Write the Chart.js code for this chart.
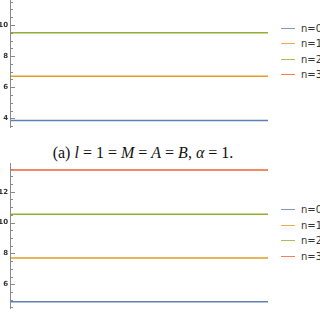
<!DOCTYPE html>
<html lang="en">
    <head>
        <meta charset="UTF-8">
        <title>Energy levels</title>
        <script src="https://cdn.jsdelivr.net/npm/chart.js@4.4.0/dist/chart.umd.min.js"></script>
        <style>
            body { margin: 0; background: #fff; }
            #wrap { position: relative; width: 320px; height: 320px; overflow: hidden; }
            .plot { position: absolute; left: 0; }
            .legend { position: absolute; left: 281px; font-family: "DejaVu Sans", sans-serif; font-size: 10px; color: #333; }
            .legend div { height: 15.5px; display: flex; align-items: center; white-space: nowrap; }
            .legend span.line { display: inline-block; width: 14px; height: 0; border-top: 1.5px solid; margin-right: 6px; opacity: 0.8; }
            .caption { position: absolute; left: 0; width: 286px; top: 144px; text-align: center;
                       font-family: "Liberation Serif", "DejaVu Serif", serif; font-size: 16px; line-height: 18px;
                       color: #111; white-space: nowrap; }
        </style>
    </head>
    <body>
        <script>
            // series
            const seriesNames = ['n=0', 'n=1', 'n=2', 'n=3'];
            const seriesColors = ['#5E81B5', '#E19C24', '#8FB032', '#EB6235'];
            const xRange = [0, 1];
            const energiesA = [3.87, 6.70, 9.50, 12.35];   // n=3 sits above the visible part
            const energiesB = [4.87, 7.70, 10.54, 13.41];
            const yTicksA = [4, 6, 8, 10];
            const yTicksB = [6, 8, 10, 12];
        </script>

        <div id="wrap">
            <div class="plot" style="top:0px"><canvas id="chartA" width="280" height="130"></canvas></div>
            <div class="legend" id="legendA" style="top:20.5px"></div>
            <div class="caption">(a) <i>l</i> = 1 = <i>M</i> = <i>A</i> = <i>B</i>, <i>α</i> = 1.</div>
            <div class="plot" style="top:160px"><canvas id="chartB" width="280" height="155"></canvas></div>
            <div class="legend" id="legendB" style="top:202px"></div>
        </div>

        <script>
            // axis line with inward major/minor ticks, placed by the y scale
            const innerTicks = {
                id: 'innerTicks',
                afterDraw(chart) {
                    const y = chart.scales.y;
                    const area = chart.chartArea;
                    const ctx = chart.ctx;
                    ctx.save();
                    ctx.strokeStyle = '#8a8a8a';
                    ctx.lineWidth = 1;
                    ctx.beginPath();
                    ctx.moveTo(area.left + 0.5, area.top);
                    ctx.lineTo(area.left + 0.5, area.bottom);
                    for (let v = Math.ceil(y.min * 2) / 2; v <= y.max; v += 0.5) {
                        const py = Math.round(y.getPixelForValue(v)) + 0.5;
                        const len = (v % 2 === 0) ? 4 : 2;
                        ctx.moveTo(area.left, py);
                        ctx.lineTo(area.left + 1 + len, py);
                    }
                    ctx.stroke();
                    ctx.restore();
                }
            };

            function makeChart(id, energies, ticks, yMin, yMax, padTop, padBottom) {
                const datasets = energies.map((e, i) => ({
                    label: seriesNames[i],
                    data: xRange.map(x => ({ x: x, y: e })),
                    borderColor: seriesColors[i],
                    borderWidth: 1.5,
                    pointRadius: 0,
                    fill: false
                }));
                return new Chart(document.getElementById(id), {
                    type: 'line',
                    data: { datasets: datasets },
                    options: {
                        responsive: false,
                        animation: false,
                        layout: { padding: { top: padTop, bottom: padBottom, right: 12, left: 0 } },
                        scales: {
                            x: { type: 'linear', min: xRange[0], max: xRange[1], display: false },
                            y: {
                                min: yMin,
                                max: yMax,
                                grid: { display: false, drawTicks: false },
                                border: { display: false },
                                ticks: { padding: 2, color: '#333', font: { size: 7, family: 'DejaVu Sans', weight: 'bold' } },
                                afterBuildTicks: s => { s.ticks = ticks.map(v => ({ value: v })); },
                                afterFit: s => { s.width = 10; s.paddingTop = 0; s.paddingBottom = 0; }
                            }
                        },
                        plugins: {
                            legend: { display: false },
                            tooltip: { enabled: false }
                        }
                    },
                    plugins: [innerTicks]
                });
            }

            function makeLegend(id) {
                const box = document.getElementById(id);
                seriesNames.forEach((name, i) => {
                    const row = document.createElement('div');
                    const line = document.createElement('span');
                    line.className = 'line';
                    line.style.borderColor = seriesColors[i];
                    row.appendChild(line);
                    row.appendChild(document.createTextNode(name));
                    box.appendChild(row);
                });
            }

            makeChart('chartA', energiesA, yTicksA, 3.38, 11.61, 0, 2);
            makeChart('chartB', energiesB, yTicksB, 4.40, 13.86, 3, 6);
            makeLegend('legendA');
            makeLegend('legendB');
        </script>
    </body>
</html>
